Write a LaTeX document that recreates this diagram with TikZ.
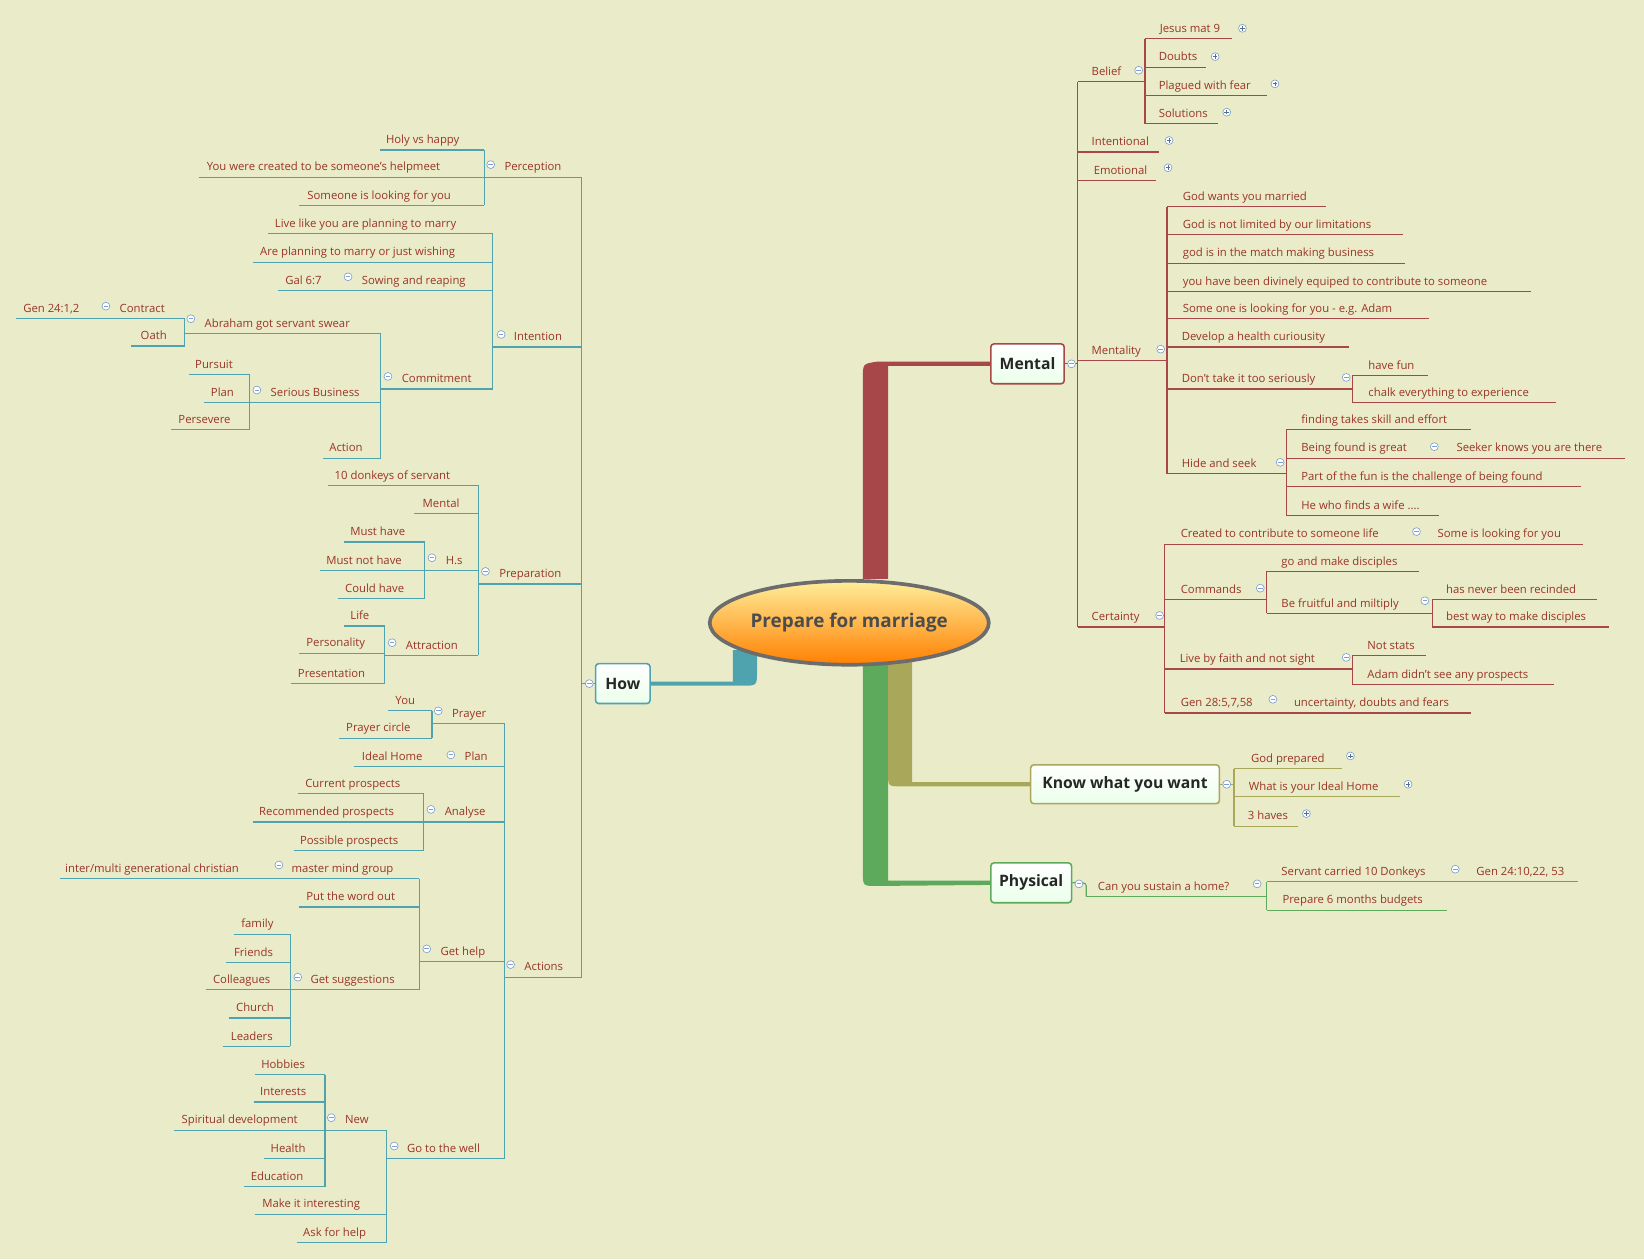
\documentclass[tikz,border=0pt]{standalone}
\usepackage{fontspec}
\usetikzlibrary{shapes.geometric}
\setmainfont{Open Sans}
\definecolor{bg}{HTML}{EAEBC9}
\definecolor{tx}{HTML}{9A3426}
\definecolor{cr}{HTML}{A8474A}
\definecolor{ct}{HTML}{4FA3AE}
\definecolor{cg}{HTML}{5DAA5D}
\definecolor{co}{HTML}{A9A85A}
\definecolor{cb}{HTML}{7A9FD0}
\newcounter{lfn}
\newcommand\lf[6]{\stepcounter{lfn}\draw[#1,line width=1.1pt] (#2,#4) coordinate (L\arabic{lfn}a) -- (#3,#4) coordinate (L\arabic{lfn}b);
 \node[txt,anchor=base west] (T\arabic{lfn}) at (#5,#4-6) {#6};}
\newcommand\br[4]{\draw[#1,line width=1.1pt,rounded corners=3pt] (#2,#3)--(#2,#4);}
\newcommand\cmn[2]{\node[circ] at (#1,#2) {}; \draw[cb,line width=0.8pt] (#1-2.2,#2)--(#1+2.2,#2);}
\newcommand\cpl[2]{\node[circ] at (#1,#2) {}; \draw[cb!70!black,line width=0.8pt] (#1-2.2,#2)--(#1+2.2,#2) (#1,#2-2.2)--(#1,#2+2.2);}
\begin{document}
\begin{tikzpicture}[x=1pt,y=-1pt,
 txt/.style={text=tx,font=\fontsize{10.8}{12}\selectfont,inner sep=0pt},
 circ/.style={circle,draw=cb,fill=white,minimum size=7.5pt,inner sep=0pt,line width=0.6pt},
 topic/.style={rounded corners=3pt,line width=1.5pt,top color=white,bottom color=green!8!white,font=\fontsize{15}{17}\selectfont\bfseries,text=black!85,inner sep=0pt}]
\fill[bg] (0,0) rectangle (1568,1201);
\useasboundingbox (0,0) rectangle (1568,1201);
% main branches
\fill[cr] (823,552) -- (823,360) .. controls (823,347) .. (836,345) -- (945,345) -- (945,349) -- (847,349) -- (847,552) -- cycle;
\fill[cg] (823,630) -- (823,832) .. controls (823,845) .. (836,845) -- (945,844) -- (945,840) -- (847,840) -- (847,630) -- cycle;
\fill[co] (847,630) -- (847,738) .. controls (847,750) .. (860,750) -- (983,750) -- (983,746) -- (870,746) -- (870,630) -- cycle;
\fill[ct] (699,620) -- (722,620) -- (722,640) .. controls (722,654) .. (708,654) -- (620,654) -- (620,650) -- (699,650) -- cycle;
% central
\node[ellipse,draw=gray!85!black,line width=3.5pt,top color=orange!35!yellow!40,bottom color=orange,minimum width=264pt,minimum height=80pt,inner sep=0pt,font=\fontsize{18}{20}\selectfont\bfseries,text=black!70] (C) at (810,594) {Prepare for marriage};
\node[topic,draw=cr,minimum width=70pt,minimum height=38pt] (M) at (980,347) {Mental};
\node[topic,draw=co,minimum width=180pt,minimum height=37pt] (K) at (1073,748) {Know what you want};
\node[topic,draw=cg,minimum width=77pt,minimum height=38pt] (P) at (983.5,842) {Physical};
\node[topic,draw=ct,minimum width=52pt,minimum height=38pt] (H) at (594,652) {How};
% ===== Mental =====
\draw[cr,line width=1.1pt] (M.east) -- (1028,347);
\cmn{1022}{347}
\br{cr}{1028}{78}{598}
\lf{cr}{1028}{1092}{78}{1041}{Belief}\cmn{1086}{67}
\br{cr}{1092}{37}{118}
\lf{cr}{1092}{1175}{37}{1106}{Jesus mat 9}\cpl{1185}{27}
\lf{cr}{1092}{1150}{64}{1105}{Doubts}\cpl{1159}{54}
\lf{cr}{1092}{1208}{91}{1105}{Plagued with fear}\cpl{1216}{80}
\lf{cr}{1092}{1162}{118}{1105}{Solutions}\cpl{1170}{107}
\lf{cr}{1028}{1105}{145}{1041}{Intentional}\cpl{1115}{134}
\lf{cr}{1028}{1103}{172}{1043}{Emotional}\cpl{1114}{160}
\lf{cr}{1028}{1113}{344}{1041}{Mentality}\cmn{1107}{333}
\br{cr}{1113}{197}{452}
\lf{cr}{1113}{1265}{197}{1128}{God wants you married}
\lf{cr}{1113}{1338}{224}{1128}{God is not limited by our limitations}
\lf{cr}{1113}{1340}{251}{1128}{god is in the match making business}
\lf{cr}{1113}{1460}{278}{1128}{you have been divinely equiped to contribute to someone}
\lf{cr}{1113}{1363}{304}{1128}{Some one is looking for you - e.g. Adam}
\lf{cr}{1113}{1287}{331}{1127}{Develop a health curiousity}
\lf{cr}{1113}{1290}{371}{1127}{Don't take it too seriously}\cmn{1284}{360}
\br{cr}{1290}{358}{384}
\lf{cr}{1290}{1362}{358}{1305}{have fun}
\lf{cr}{1290}{1484}{384}{1305}{chalk everything to experience}
\lf{cr}{1113}{1227}{452}{1127}{Hide and seek}\cmn{1221}{441}
\br{cr}{1227}{410}{492}
\lf{cr}{1227}{1403}{410}{1241}{finding takes skill and effort}
\lf{cr}{1227}{1375}{437}{1241}{Being found is great}\cmn{1368}{426}
\lf{cr}{1375}{1550}{437}{1389}{Seeker knows you are there}
\lf{cr}{1227}{1508}{464}{1241}{Part of the fun is the challenge of being found}
\lf{cr}{1227}{1372}{492}{1241}{He who finds a wife ....}
\lf{cr}{1028}{1111}{598}{1041}{Certainty}\cmn{1106}{587}
\br{cr}{1111}{519}{680}
\lf{cr}{1111}{1357}{519}{1126}{Created to contribute to someone life}\cmn{1351}{507}
\lf{cr}{1357}{1510}{519}{1371}{Some is looking for you}
\lf{cr}{1111}{1208}{572}{1126}{Commands}\cmn{1202}{561}
\br{cr}{1208}{545}{585}
\lf{cr}{1208}{1353}{545}{1222}{go and make disciples}
\lf{cr}{1208}{1366}{585}{1222}{Be fruitful and miltiply}\cmn{1359}{573}
\br{cr}{1366}{572}{598}
\lf{cr}{1366}{1523}{572}{1379}{has never been recinded}
\lf{cr}{1366}{1535}{598}{1379}{best way to make disciples}
\lf{cr}{1111}{1290}{638}{1125}{Live by faith and not sight}\cmn{1284}{627}
\br{cr}{1290}{625}{653}
\lf{cr}{1290}{1360}{625}{1304}{Not stats}
\lf{cr}{1290}{1482}{653}{1304}{Adam didn't see any prospects}
\lf{cr}{1111}{1220}{680}{1126}{Gen 28:5,7,58}\cmn{1214}{667}
\lf{cr}{1220}{1403}{680}{1234}{uncertainty, doubts and fears}
% ===== Know =====
\draw[co,line width=1.1pt] (K.east) -- (1177,748);
\cmn{1170}{748}
\br{co}{1177}{733}{788}
\lf{co}{1177}{1280}{733}{1193}{God prepared}\cpl{1288}{721}
\lf{co}{1177}{1335}{760}{1191}{What is your Ideal Home}\cpl{1343}{748}
\lf{co}{1177}{1238}{788}{1190}{3 haves}\cpl{1246}{776}
% ===== Physical =====
\draw[cg,line width=1.1pt,rounded corners=3pt] (P.east) -- (1036,842) -- (1036,855);
\cmn{1029}{843}
\lf{cg}{1036}{1208}{855}{1047}{Can you sustain a home?}\cmn{1199}{843}
\br{cg}{1208}{841}{868}
\lf{cg}{1208}{1383}{841}{1222}{Servant carried 10 Donkeys}\cmn{1388}{829}
\lf{cg}{1383}{1505}{841}{1408}{Gen 24:10,22, 53}
\lf{cg}{1208}{1380}{868}{1223}{Prepare 6 months budgets}
% ===== How =====
\draw[ct,line width=1.1pt] (H.west) -- (555,652);
\cmn{562}{652}
\br{ct}{555}{169}{932}
\lf{ct}{462}{555}{169}{481}{Perception}\cmn{468}{157}
\br{ct}{462}{143}{196}
\lf{ct}{362}{462}{143}{368}{Holy vs happy}
\lf{ct}{190}{462}{169}{197}{You were created to be someone's helpmeet}
\lf{ct}{285}{462}{196}{293}{Someone is looking for you}
\lf{ct}{470}{555}{331}{490}{Intention}\cmn{478}{319}
\br{ct}{470}{223}{371}
\lf{ct}{256}{470}{223}{262}{Live like you are planning to marry}
\lf{ct}{241}{470}{250}{248}{Are planning to marry or just wishing}
\lf{ct}{323}{470}{277}{345}{Sowing and reaping}\cmn{332}{264}
\lf{ct}{265}{323}{277}{272}{Gal 6:7}
\lf{ct}{363}{470}{371}{383}{Commitment}\cmn{370}{359}
\br{ct}{363}{318}{437}
\lf{ct}{176}{363}{318}{195}{Abraham got servant swear}\cmn{182}{304}
\br{ct}{176}{304}{330}
\lf{ct}{94}{176}{304}{114}{Contract}\cmn{101}{292}
\lf{ct}{15}{94}{304}{22}{Gen 24:1,2}
\lf{ct}{125}{176}{330}{134}{Oath}
\lf{ct}{238}{363}{384}{258}{Serious Business}\cmn{245}{372}
\br{ct}{238}{357}{410}
\lf{ct}{180}{238}{357}{186}{Pursuit}
\lf{ct}{195}{238}{384}{201}{Plan}
\lf{ct}{163}{238}{410}{170}{Persevere}
\lf{ct}{308}{363}{437}{314}{Action}
\lf{ct}{456}{555}{557}{476}{Preparation}\cmn{463}{545}
\br{ct}{456}{463}{625}
\lf{ct}{313}{456}{463}{319}{10 donkeys of servant}
\lf{ct}{395}{456}{490}{403}{Mental}
\lf{ct}{405}{456}{544}{425}{H.s}\cmn{412}{532}
\br{ct}{405}{517}{571}
\lf{ct}{328}{405}{517}{334}{Must have}
\lf{ct}{305}{405}{544}{311}{Must not have}
\lf{ct}{322}{405}{571}{329}{Could have}
\lf{ct}{367}{456}{625}{387}{Attraction}\cmn{374}{613}
\br{ct}{367}{597}{652}
\lf{ct}{328}{367}{597}{334}{Life}
\lf{ct}{285}{367}{623}{292}{Personality}
\lf{ct}{278}{367}{652}{284}{Presentation}
\lf{ct}{481}{555}{932}{500}{Actions}\cmn{487}{920}
\br{ct}{481}{690}{1105}
\lf{ct}{412}{481}{690}{431}{Prayer}\cmn{418}{678}
\br{ct}{412}{678}{704}
\lf{ct}{370}{412}{678}{377}{You}
\lf{ct}{323}{412}{704}{330}{Prayer circle}
\lf{ct}{420}{481}{731}{443}{Plan}\cmn{430}{720}
\lf{ct}{338}{420}{731}{345}{Ideal Home}
\lf{ct}{404}{481}{784}{424}{Analyse}\cmn{411}{772}
\br{ct}{404}{757}{811}
\lf{ct}{284}{404}{757}{291}{Current prospects}
\lf{ct}{241}{404}{784}{247}{Recommended prospects}
\lf{ct}{280}{404}{811}{286}{Possible prospects}
\lf{ct}{400}{481}{917}{420}{Get help}\cmn{407}{905}
\br{ct}{400}{838}{944}
\lf{ct}{258}{400}{838}{278}{master mind group}\cmn{266}{825}
\lf{ct}{57}{258}{838}{62}{inter/multi generational christian}
\lf{ct}{285}{400}{865}{292}{Put the word out}
\lf{ct}{277}{400}{944}{296}{Get suggestions}\cmn{284}{932}
\br{ct}{277}{891}{998}
\lf{ct}{223}{277}{891}{230}{family}
\lf{ct}{216}{277}{918}{223}{Friends}
\lf{ct}{196}{277}{944}{203}{Colleagues}
\lf{ct}{218}{277}{971}{225}{Church}
\lf{ct}{213}{277}{998}{220}{Leaders}
\lf{ct}{369}{481}{1105}{388}{Go to the well}\cmn{376}{1093}
\br{ct}{369}{1078}{1185}
\lf{ct}{310}{369}{1078}{329}{New}\cmn{316}{1066}
\br{ct}{310}{1025}{1132}
\lf{ct}{243}{310}{1025}{249}{Hobbies}
\lf{ct}{242}{310}{1051}{248}{Interests}
\lf{ct}{166}{310}{1078}{173}{Spiritual development}
\lf{ct}{252}{310}{1105}{258}{Health}
\lf{ct}{233}{310}{1132}{239}{Education}
\lf{ct}{243}{369}{1158}{250}{Make it interesting}
\lf{ct}{283}{369}{1185}{289}{Ask for help}
\end{tikzpicture}
\end{document}
